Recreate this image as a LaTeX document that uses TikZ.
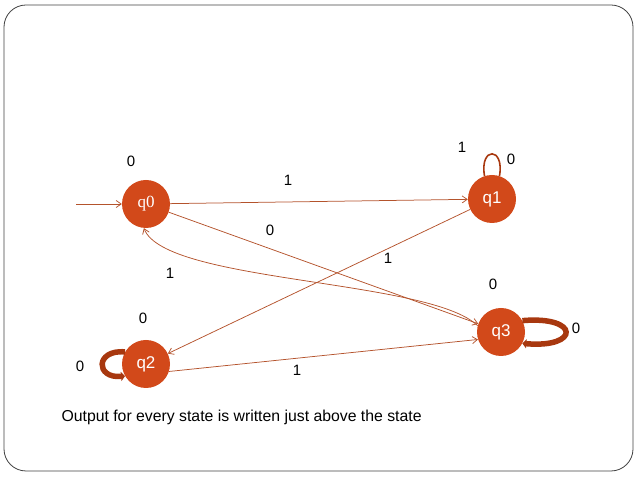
\documentclass[tikz,border=0pt]{standalone}
\usepackage{fontspec}
\setmainfont{Liberation Sans}
\newfontfamily\serifq{Liberation Serif}
\usepackage{xcolor}
\usetikzlibrary{arrows.meta,positioning}
\definecolor{stfill}{HTML}{D2491A}
\definecolor{edgec}{HTML}{B4532C}
\definecolor{loopc}{HTML}{A8380F}
\begin{document}
\begin{tikzpicture}[
  x=1pt, y=1pt,
  font=\fontsize{15}{17}\selectfont,
  >={Straight Barb[length=5pt,width=7pt]},
  st/.style={circle, fill=stfill, draw=none, minimum size=48pt, inner sep=0pt,
    text=white, font=\fontsize{17}{19}\selectfont},
  e/.style={->, line width=0.75pt, draw=edgec},
  fat/.style={line width=5.5pt, draw=loopc, -{Triangle[length=4pt,width=9pt]}},
  lbl/.style={inner sep=1pt},
]
\useasboundingbox (0,0) rectangle (638,479);
\draw[rounded corners=22pt, draw=black!75, line width=0.8pt] (4,8) rectangle (633,474);

% states
\node[st] (q0) at (146,275) {\serifq q0};
\node[st] (q1) at (492,280) {q1};
\node[st] (q2) at (146,115) {q2};
\node[st] (q3) at (501,147) {q3};

% outputs above the states
\node[lbl] (o0) at (131,318) {0};
\node[lbl] (o1) at (511,320) {0};
\node[lbl] (o2) at (143,161) {0};
\node[lbl] (o3) at (493,195) {0};

\coordinate (start) at (76,275);

\draw[e] (start) -- (q0);
\draw[e] (q0) -- (q1);
\draw[e] (q0) -- (q3);
\draw[e] (q1) -- (q2);
\draw[e] (q2.-18) -- (q3.198);
\draw[e] (q3.165) .. controls (430,200) and (165,196) .. (q0.265);

% self loops
\draw[line width=1.6pt, draw=loopc] (q1.108) .. controls +(100:30) and +(80:30) .. (q1.72);
\draw[fat] (q2.150) .. controls +(175:30) and +(185:30) .. (q2.210);
\draw[fat] (q3.28) .. controls +(5:58) and +(-5:58) .. (q3.-28);

% edge labels
\node[lbl] (l01) at (288,299) {1};
\node[lbl] (l11) at (462,332) {1};
\node[lbl] (l03) at (270,249) {0};
\node[lbl] (l12) at (388,221) {1};
\node[lbl] (l30) at (170,206) {1};
\node[lbl] (l22) at (80,113) {0};
\node[lbl] (l33) at (576,151) {0};
\node[lbl] (l23) at (297,109) {1};

\node[anchor=west, font=\fontsize{15.8}{18}\selectfont] (note) at (58,62)
  {Output for every state is written just above the state};
\end{tikzpicture}
\end{document}
